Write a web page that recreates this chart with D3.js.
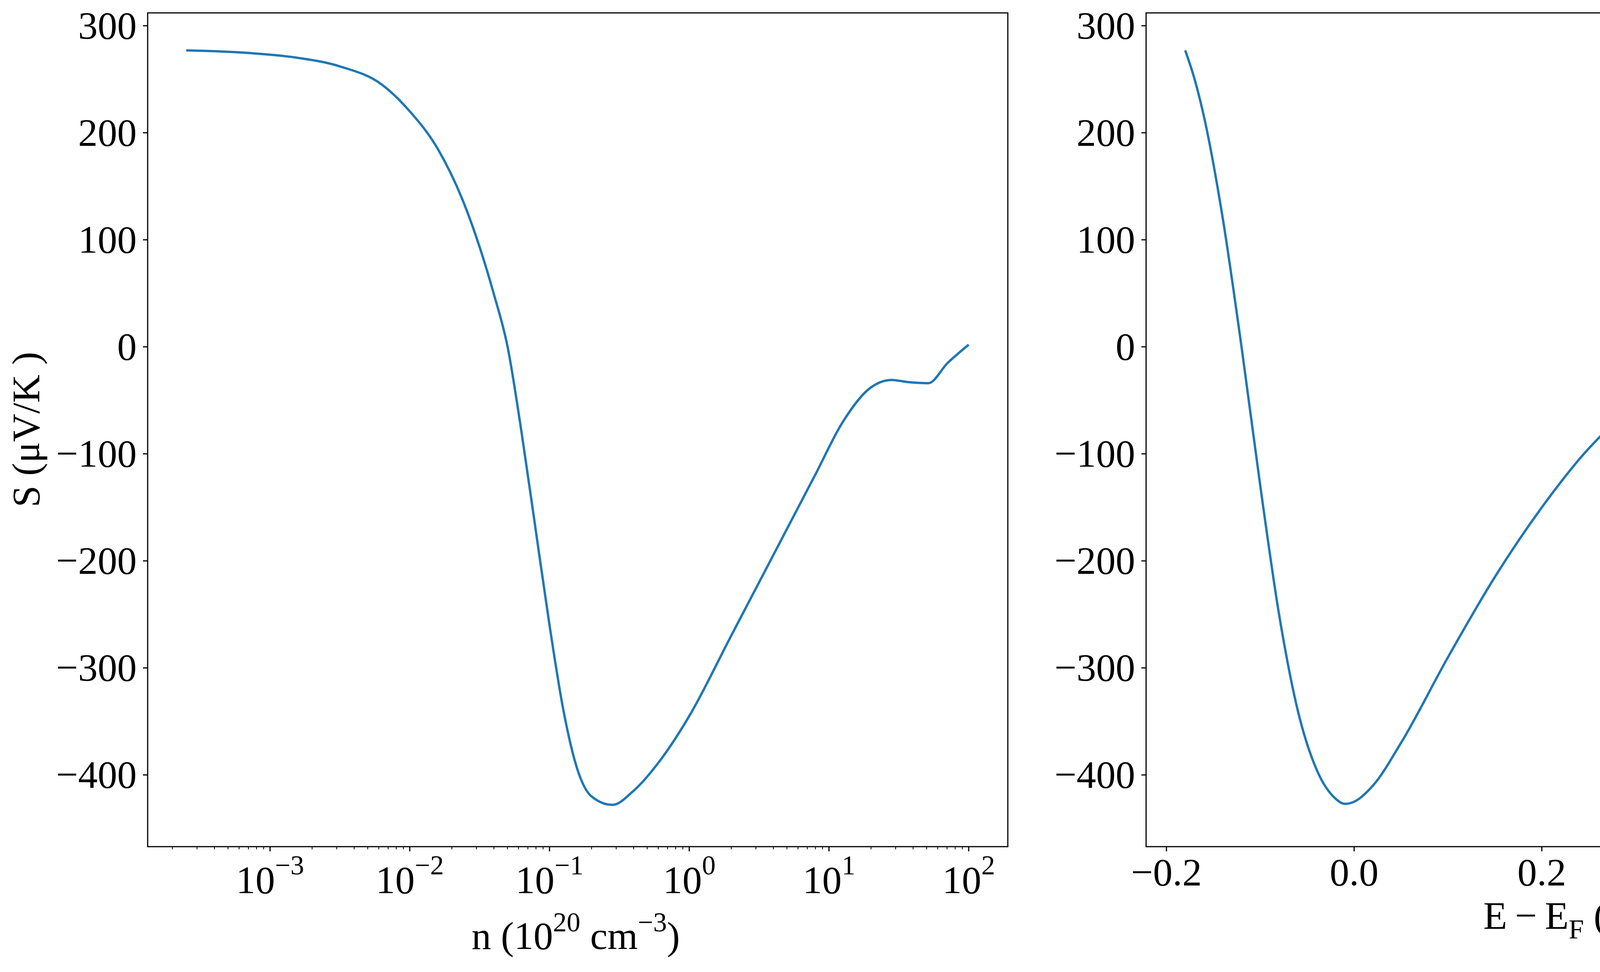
<!DOCTYPE html>
<html><head><meta charset="utf-8">
<script src="https://cdn.jsdelivr.net/npm/d3@7"></script>
<style>body{margin:0;background:#fff}text{font-family:"Liberation Serif","Times New Roman",serif}</style>
</head><body>
<svg id="c" width="5169" height="2489"></svg>
<script>
// Left panel: log10(n) vs S
const leftLogN = [-3.6,-3.1,-2.8,-2.5,-2.2,-2.0,-1.8,-1.6,-1.4,-1.3,-1.2,-1.1,-1.0,-0.9,-0.8,-0.7,-0.55,-0.4,-0.2,0,0.3,0.6,0.9,1.1,1.3,1.45,1.57,1.71,1.85,2.0];
const leftS =    [277,274,270,262,245,220,185,130,50,0,-80,-170,-260,-340,-395,-420,-428,-415,-385,-345,-270,-195,-120,-70,-38,-31,-33,-34,-15,2];
// Right panel: E-EF vs S
const rightE = [-0.18,-0.17,-0.16,-0.14,-0.12,-0.10,-0.08,-0.06,-0.04,-0.02,-0.01,0.0,0.02,0.05,0.1,0.15,0.2,0.25,0.3,0.35,0.4,0.45,0.5,0.55,0.6,0.63,0.65];
const rightS = [277,250,215,120,0,-130,-250,-340,-395,-422,-427,-425,-410,-370,-290,-215,-150,-95,-55,-35,-31,-33,-32,-20,-7,1,2];
const yTicks = [-400,-300,-200,-100,0,100,200,300];
const xLogTicks = [-3,-2,-1,0,1,2];
const xLinTicks = [-0.2,0.0,0.2,0.4,0.6];

const svg = d3.select("#c");
const plotTop=33, plotBottom=2168, FS=100, color="#1f77b4";
const y = d3.scaleLinear().domain([-467,312]).range([plotBottom,plotTop]);
const minus = s => s.replace("-", "\u2212");

function frame(g, x0, x1){
  g.append("rect").attr("x",x0).attr("y",plotTop).attr("width",x1-x0).attr("height",plotBottom-plotTop)
   .attr("fill","none").attr("stroke","#000").attr("stroke-width",3);
  yTicks.forEach(t=>{
    g.append("line").attr("x1",x0-12).attr("x2",x0).attr("y1",y(t)).attr("y2",y(t)).attr("stroke","#000").attr("stroke-width",3);
    g.append("text").attr("x",x0-28).attr("y",y(t)).attr("dy","0.33em").attr("text-anchor","end")
     .attr("font-size",FS).text(minus(String(t)));
  });
}

// Left
const xL = d3.scaleLog().domain([Math.pow(10,-3.876),Math.pow(10,2.28)]).range([378,2580]);
const gL = svg.append("g");
frame(gL,378,2580);
for(let d=-4; d<=2; d++){ for(let m=2;m<=9;m++){ const v=m*Math.pow(10,d);
  if(v>xL.domain()[0]&&v<xL.domain()[1]) gL.append("line").attr("x1",xL(v)).attr("x2",xL(v)).attr("y1",plotBottom).attr("y2",plotBottom+7).attr("stroke","#000").attr("stroke-width",2);}}
xLogTicks.forEach(t=>{
  const X=xL(Math.pow(10,t));
  gL.append("line").attr("x1",X).attr("x2",X).attr("y1",plotBottom).attr("y2",plotBottom+12).attr("stroke","#000").attr("stroke-width",3);
  const tx=gL.append("text").attr("x",X).attr("y",2287).attr("text-anchor","middle").attr("font-size",FS);
  tx.append("tspan").text("10");
  tx.append("tspan").attr("dy",-48).attr("font-size",70).text(minus(String(t)));
});
gL.append("path").datum(leftLogN.map((v,i)=>[v,leftS[i]]))
  .attr("d",d3.line().x(d=>xL(Math.pow(10,d[0]))).y(d=>y(d[1])).curve(d3.curveMonotoneX))
  .attr("fill","none").attr("stroke",color).attr("stroke-width",6);
const xlab=gL.append("text").attr("x",1474).attr("y",2430).attr("text-anchor","middle").attr("font-size",FS);
xlab.append("tspan").text("n (10");
xlab.append("tspan").attr("dy",-45).attr("font-size",70).text("20");
xlab.append("tspan").attr("dy",45).text(" cm");
xlab.append("tspan").attr("dy",-45).attr("font-size",70).text("\u22123");
xlab.append("tspan").attr("dy",45).text(")");
gL.append("text").attr("transform","translate(100,1100) rotate(-90)").attr("text-anchor","middle").attr("font-size",FS).text("S (\u03bcV/K )");

// Right
const xR = d3.scaleLinear().domain([-0.2217,0.6945]).range([2934,5135]);
const gR = svg.append("g");
frame(gR,2934,5135);
xLinTicks.forEach(t=>{
  const X=xR(t);
  gR.append("line").attr("x1",X).attr("x2",X).attr("y1",plotBottom).attr("y2",plotBottom+12).attr("stroke","#000").attr("stroke-width",3);
  gR.append("text").attr("x",X).attr("y",2267).attr("text-anchor","middle").attr("font-size",FS).text(minus(t.toFixed(1)));
});
gR.append("path").datum(rightE.map((v,i)=>[v,rightS[i]]))
  .attr("d",d3.line().x(d=>xR(d[0])).y(d=>y(d[1])).curve(d3.curveMonotoneX))
  .attr("fill","none").attr("stroke",color).attr("stroke-width",6);
const xl2=gR.append("text").attr("x",4030).attr("y",2378).attr("text-anchor","middle").attr("font-size",FS);
xl2.append("tspan").text("E\u2009\u2212\u2009E");
xl2.append("tspan").attr("dy",25).attr("font-size",70).text("F");
xl2.append("tspan").attr("dy",-25).text(" (eV)");
</script>
</body></html>
